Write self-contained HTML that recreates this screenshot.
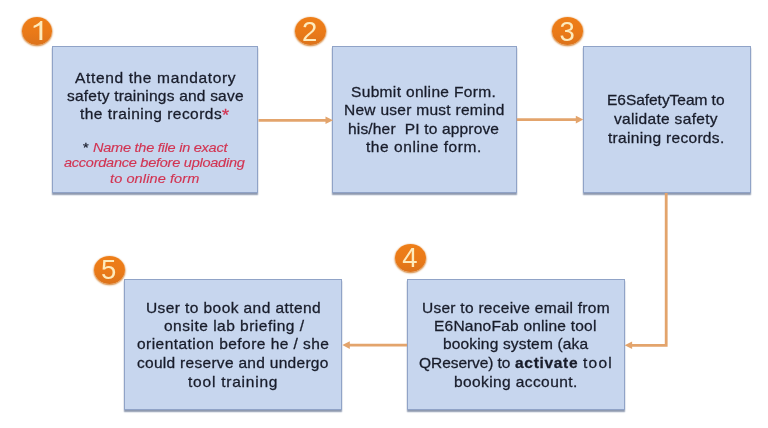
<!DOCTYPE html>
<html><head><meta charset="utf-8">
<style>
html,body{margin:0;padding:0;background:#fff;}
body{width:768px;height:428px;position:relative;overflow:hidden;font-family:"Liberation Sans",sans-serif;color:#181c2a;}
.box{position:absolute;background:#c7d6ee;border:1px solid #90a3c7;border-bottom-width:1.4px;box-sizing:border-box;box-shadow:0 1.5px 1.2px rgba(105,120,150,0.75);}
.num{position:absolute;width:31px;height:28px;border-radius:50%;background:linear-gradient(to bottom,#ee7e18 0%,#ea7a18 55%,#dc731b 100%);color:#fdeabc;font-size:27.5px;line-height:28px;text-align:center;box-shadow:0 0.7px 1.6px 0.5px rgba(214,138,62,0.95);}
.num span{display:block;position:relative;left:-0.6px;top:0.5px;filter:blur(0.5px);}
.t{position:absolute;white-space:nowrap;line-height:18px;height:18px;transform-origin:0 50%;transform:scaleX(1.07);-webkit-text-stroke:0.27px currentColor;}
.r{color:#d23452;font-style:italic;-webkit-text-stroke:0.15px currentColor;}
#txt{filter:blur(0.35px);}
</style></head><body>
<div class="box" style="left:52px;top:45.9px;width:206.1px;height:146.9px;"></div>
<div class="box" style="left:332.2px;top:45.9px;width:184.4px;height:146.9px;"></div>
<div class="box" style="left:583.2px;top:45.9px;width:167.8px;height:146.9px;"></div>
<div class="box" style="left:406.9px;top:279.2px;width:217.8px;height:130.7px;"></div>
<div class="box" style="left:124.3px;top:279.2px;width:218.2px;height:130.7px;"></div>
<div class="num" style="left:21.5px;top:17.2px;width:30.4px;"><svg width="30.5" height="28" viewBox="0 0 30.5 28" style="display:block;filter:blur(0.5px)"><path transform="translate(8.0,23.1) scale(0.01617,-0.01294)" fill="#fdeabc" d="M763 0H583V1147Q518 1085 412.500 1023Q307 961 223 930V1104Q374 1175 487 1276Q600 1377 647 1472H763Z"/></svg></div>
<div class="num" style="left:294.6px;top:17.3px;width:31.4px;"><span>2</span></div>
<div class="num" style="left:551.9px;top:17.3px;width:31.6px;"><span>3</span></div>
<div class="num" style="left:394.8px;top:243.6px;width:31.4px;height:28.3px;"><span>4</span></div>
<div class="num" style="left:93.6px;top:255.9px;width:31.4px;height:28.3px;"><span>5</span></div>
<svg width="768" height="428" style="position:absolute;left:0;top:0;filter:blur(0.4px)">
 <g stroke="#e3a46c" stroke-width="2.8" fill="none" stroke-linejoin="miter">
  <path d="M258.5 120.3 H327"/>
  <path d="M516.8 119.6 H577"/>
  <path d="M666.2 193 V345.3 H630"/>
  <path d="M407 345.1 H348"/>
 </g>
 <g fill="#e3a46c">
  <path d="M333 120.3 l-7.5 -3.8 v7.6z"/>
  <path d="M583.3 119.6 l-7.5 -3.8 v7.6z"/>
  <path d="M624.6 345.3 l7.5 -3.8 v7.6z"/>
  <path d="M342.3 345.1 l7.5 -3.8 v7.6z"/>
 </g>
</svg>
<div id="txt">
<div class="t" id="a1" style="left:74.60px;top:68.68px;font-size:14.5px;letter-spacing:0.597px;">Attend the mandatory</div>
<div class="t" id="a2" style="left:66.55px;top:87.18px;font-size:14.5px;letter-spacing:0.191px;">safety trainings and save</div>
<div class="t" id="a3" style="left:80.00px;top:105.38px;font-size:14.5px;letter-spacing:0.437px;">the training records</div>
<div class="t" id="a3s" style="left:222.40px;top:107.21px;font-size:17px;letter-spacing:0.000px;"><span style="color:#d23452">*</span></div>
<div class="t" id="a4s" style="left:82.60px;top:138.59px;font-size:13.6px;letter-spacing:0.000px;">*</div>
<div class="t r" id="a4" style="left:93.30px;top:138.59px;font-size:13.6px;letter-spacing:-0.239px;">Name the file in exact</div>
<div class="t r" id="a5" style="left:64.40px;top:154.39px;font-size:13.6px;letter-spacing:-0.245px;">accordance before uploading</div>
<div class="t r" id="a6" style="left:110.30px;top:170.09px;font-size:13.6px;letter-spacing:0.085px;">to online form</div>
<div class="t" id="b1" style="left:351.40px;top:82.78px;font-size:14.5px;letter-spacing:0.310px;">Submit online Form.</div>
<div class="t" id="b2" style="left:343.80px;top:101.38px;font-size:14.5px;letter-spacing:0.251px;">New user must remind</div>
<div class="t" id="b3" style="left:348.10px;top:119.88px;font-size:14.5px;letter-spacing:0.157px;">his/her&nbsp; PI to approve</div>
<div class="t" id="b4" style="left:365.80px;top:138.38px;font-size:14.5px;letter-spacing:0.520px;">the online form.</div>
<div class="t" id="c1" style="left:607.40px;top:91.48px;font-size:14.5px;letter-spacing:-0.043px;">E6SafetyTeam to</div>
<div class="t" id="c2" style="left:614.30px;top:110.38px;font-size:14.5px;letter-spacing:0.294px;">validate safety</div>
<div class="t" id="c3" style="left:607.80px;top:128.88px;font-size:14.5px;letter-spacing:0.289px;">training records.</div>
<div class="t" id="d1" style="left:421.60px;top:299.08px;font-size:14.5px;letter-spacing:0.244px;">User to receive email from</div>
<div class="t" id="d2" style="left:434.30px;top:317.38px;font-size:14.5px;letter-spacing:0.212px;">E6NanoFab online tool</div>
<div class="t" id="d3" style="left:442.80px;top:335.48px;font-size:14.5px;letter-spacing:0.146px;">booking system (aka</div>
<div class="t" id="d4" style="left:418.60px;top:354.38px;font-size:14.5px;letter-spacing:-0.065px;">QReserve) to</div>
<div class="t" id="d4b" style="left:515.30px;top:354.38px;font-size:14.5px;letter-spacing:0.641px;"><b>activate</b></div>
<div class="t" id="d4c" style="left:583.00px;top:354.38px;font-size:14.5px;letter-spacing:1.175px;">tool</div>
<div class="t" id="d5" style="left:453.60px;top:372.68px;font-size:14.5px;letter-spacing:0.367px;">booking account.</div>
<div class="t" id="e1" style="left:145.90px;top:299.08px;font-size:14.5px;letter-spacing:0.382px;">User to book and attend</div>
<div class="t" id="e2" style="left:163.50px;top:317.38px;font-size:14.5px;letter-spacing:0.456px;">onsite lab briefing /</div>
<div class="t" id="e3" style="left:137.10px;top:335.48px;font-size:14.5px;letter-spacing:0.421px;">orientation before he / she</div>
<div class="t" id="e4" style="left:137.10px;top:354.38px;font-size:14.5px;letter-spacing:0.265px;">could reserve and undergo</div>
<div class="t" id="e5" style="left:187.90px;top:372.68px;font-size:14.5px;letter-spacing:0.723px;">tool training</div>
</div></body></html>
